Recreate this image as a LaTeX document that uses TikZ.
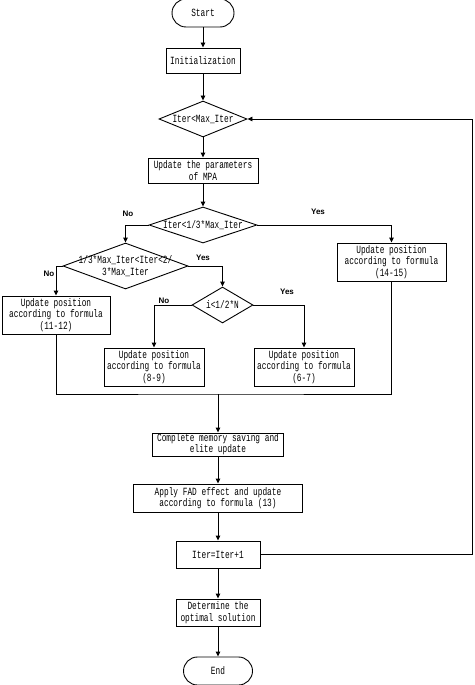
\documentclass[tikz,border=0pt]{standalone}
\usepackage{fontspec}
\newfontfamily\flowfont[FakeStretch=0.71]{Liberation Mono}
\newfontfamily\branchfont{Liberation Sans}
\usetikzlibrary{shapes.geometric,arrows.meta}

\begin{document}
\begin{tikzpicture}[
    x=1pt, y=-1pt,
    line width=0.9pt,
    every node/.style={font=\flowfont\fontsize{11}{11.3}\selectfont},
    terminal/.style={draw, rectangle, rounded corners=14pt, minimum width=62pt, minimum height=28pt, inner sep=0pt},
    process/.style={draw, rectangle, align=center, inner sep=0pt},
    decision/.style={draw, diamond, inner sep=0pt},
    branch/.style={font=\branchfont\bfseries\fontsize{8}{9}\selectfont},
    flow/.style={-{Triangle[length=5pt,width=4.5pt]}},
  ]
    \useasboundingbox[fill=white] (0,0) rectangle (474,685);
    %% Upper column
    \node[terminal] (start) at (203,13) {Start};
    \node[process, minimum width=74pt, minimum height=25pt] (init) at (203,60.5) {Initialization};
    \node[decision, minimum width=88pt, minimum height=36pt] (d1) at (203,119) {};
    \node (d1text) at (d1) {Iter<Max\_Iter};
    \node[process, minimum width=110pt, minimum height=25pt] (mpa) at (203,170.5) {Update the parameters\\of MPA};
    \node[decision, minimum width=108pt, minimum height=36pt] (d2) at (203,225) {};
    \node (d2text) at (d2) {Iter<1/3*Max\_Iter};
    %% Branches
    \node[process, minimum width=109pt, minimum height=38pt] (b1415) at (391.5,262) {Update position\\according to formula\\(14-15)};
    \node[decision, minimum width=125pt, minimum height=46pt] (d3) at (125.5,266) {};
    \node[align=center] (d3text) at (d3) {1/3*Max\_Iter<Iter<2/\\3*Max\_Iter};
    \node[process, minimum width=108pt, minimum height=38pt] (b1112) at (56,315) {Update position\\according to formula\\(11-12)};
    \node[decision, minimum width=61pt, minimum height=36pt] (d4) at (222.5,305) {};
    \node (d4text) at (d4) {i<1/2*N};
    \node[process, minimum width=100pt, minimum height=38pt] (b89) at (154,367) {Update position\\according to formula\\(8-9)};
    \node[process, minimum width=100pt, minimum height=38pt] (b67) at (304,367) {Update position\\according to formula\\(6-7)};
    %% Yes / No labels
    \node[branch] (no1) at (128,214) {No};
    \node[branch] (yes1) at (318,212) {Yes};
    \node[branch] (yes2) at (203,258) {Yes};
    \node[branch] (no2) at (49,274) {No};
    \node[branch] (no3) at (164,301) {No};
    \node[branch] (yes3) at (287,292) {Yes};
    %% Lower column
    \coordinate (merge) at (218,394);
    \node[process, minimum width=131pt, minimum height=23pt] (memory) at (218,444.5) {Complete memory saving and\\elite update};
    \node[process, minimum width=169pt, minimum height=28pt] (fad) at (218,498) {Apply FAD effect and update\\according to formula (13)};
    \node[process, minimum width=84pt, minimum height=27pt] (iterinc) at (218,554.5) {Iter=Iter+1};
    \node[process, minimum width=84pt, minimum height=27pt] (best) at (218,612.5) {Determine the\\optimal solution};
    \node[terminal, minimum width=69pt] (end) at (218,671) {End};
    \coordinate (loop) at (472,554.5);
    %% Connectors
    \draw[flow] (start) -- (init);
    \draw[flow] (init) -- (d1);
    \draw[flow] (d1) -- (mpa);
    \draw[flow] (mpa) -- (d2);
    \draw[flow] (d2.west) -| (d3.north);
    \draw[flow] (d2.east) -| (b1415.north);
    \draw[flow] (d3.west) -| (b1112.north);
    \draw[flow] (d3.east) -| (d4.north);
    \draw[flow] (d4.west) -| (b89.north);
    \draw[flow] (d4.east) -| (b67.north);
    \draw (b1112.south) |- (merge) -| (b1415.south);
    \draw[flow] (merge) -- (memory);
    \draw[flow] (memory) -- (fad);
    \draw[flow] (fad) -- (iterinc);
    \draw[flow] (iterinc) -- (best);
    \draw[flow] (best) -- (end);
    \draw[flow] (iterinc.east) -- (loop) |- (d1.east);
  \end{tikzpicture}
\end{document}
